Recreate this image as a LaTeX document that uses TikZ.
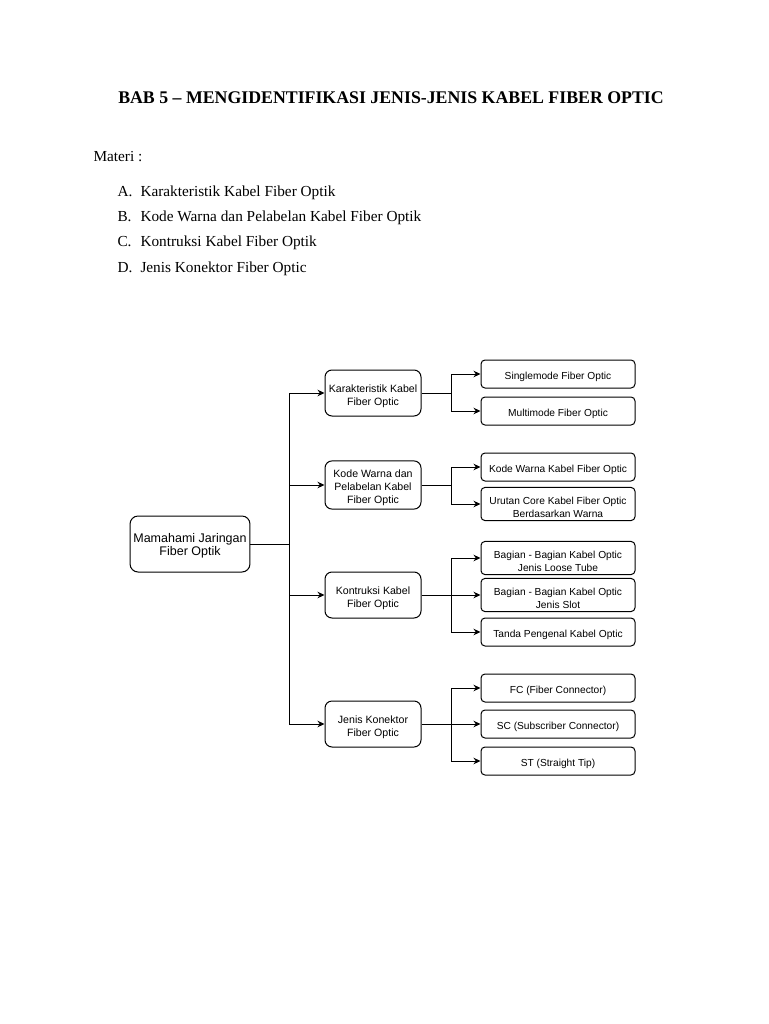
\documentclass[tikz,border=0pt]{standalone}
\usepackage{fontspec}
\setmainfont{Liberation Serif}
\newfontfamily\arialfont{Liberation Sans}
\usetikzlibrary{positioning, arrows.meta}
\newcommand{\tstrut}{\rule{0pt}{13.5pt}}

\begin{document}
\begin{tikzpicture}[>={Stealth[length=7pt, width=6.5pt]}, x=1pt, y=-1pt, line width=1pt,
    rootbox/.style={draw, rounded corners=8pt, minimum width=116pt, minimum height=56pt, align=center,
      font=\arialfont\fontsize{12.5}{13.8}\selectfont},
    midbox/.style={draw, rounded corners=7pt, minimum width=96pt, minimum height=46pt, align=center,
      font=\arialfont\fontsize{10.6}{12.9}\selectfont},
    leafbox/.style={draw, rounded corners=4pt, minimum width=154pt, minimum height=28pt, align=center,
      font=\arialfont\fontsize{10.2}{12.9}\selectfont},
    txt/.style={anchor=base west, inner sep=0pt, font=\fontsize{15.3}{18}\selectfont}]
        \useasboundingbox[fill=white] (0, 0) rectangle (768, 1024);

        \node[anchor=base, inner sep=0pt, font=\fontsize{17.8}{20}\selectfont\bfseries] (title) at (391, 104)
          {BAB 5 \textendash{} MENGIDENTIFIKASI JENIS-JENIS KABEL FIBER OPTIC};
        \node[txt] (materi) at (93, 162) {Materi :};
        \node[txt] (la) at (117, 197) {A.};
        \node[txt] (ta) at (140, 197) {Karakteristik Kabel Fiber Optik};
        \node[txt] (lb) at (117, 222) {B.};
        \node[txt] (tb) at (140, 222) {Kode Warna dan Pelabelan Kabel Fiber Optik};
        \node[txt] (lc) at (117, 247) {C.};
        \node[txt] (tc) at (140, 247) {Kontruksi Kabel Fiber Optik};
        \node[txt] (ld) at (117, 272) {D.};
        \node[txt] (td) at (140, 272) {Jenis Konektor Fiber Optic};

        \node[rootbox] (root) at (190, 544) {\rule{0pt}{12.5pt}Mamahami Jaringan\\Fiber Optik};

        \node[midbox] (k1) at (373, 393) {\tstrut Karakteristik Kabel\\Fiber Optic};
        \node[midbox] (k2) at (373, 485) {\tstrut Kode Warna dan\\Pelabelan Kabel\\Fiber Optic};
        \node[midbox] (k3) at (373, 595) {\tstrut Kontruksi Kabel\\Fiber Optic};
        \node[midbox] (k4) at (373, 724) {\tstrut Jenis Konektor\\Fiber Optic};

        \node[leafbox] (s1) at (558, 374) {\tstrut Singlemode Fiber Optic};
        \node[leafbox] (s2) at (558, 411) {\tstrut Multimode Fiber Optic};
        \node[leafbox] (s3) at (558, 467) {\tstrut Kode Warna Kabel Fiber Optic};
        \node[leafbox] (s4) at (558, 504) {\tstrut Urutan Core Kabel Fiber Optic\\Berdasarkan Warna};
        \node[leafbox] (s5) at (558, 558) {\tstrut Bagian - Bagian Kabel Optic\\Jenis Loose Tube};
        \node[leafbox] (s6) at (558, 595) {\tstrut Bagian - Bagian Kabel Optic\\Jenis Slot};
        \node[leafbox] (s7) at (558, 632) {\tstrut Tanda Pengenal Kabel Optic};
        \node[leafbox] (s8) at (558, 688) {\tstrut FC (Fiber Connector)};
        \node[leafbox] (s9) at (558, 724) {\tstrut SC (Subscriber Connector)};
        \node[leafbox] (s10) at (558, 761) {\tstrut ST (Straight Tip)};

        \draw (root.east) -- ++(39, 0) coordinate (trunk);
        \draw (trunk |- k1.west) -- (trunk |- k4.west);
        \foreach \k in {k1, k2, k3, k4}
          \draw[->] (trunk |- \k.west) -- (\k.west);

        \draw (k1.east) -- ++(30, 0) coordinate (b1);
        \draw[->] (b1) |- (s1.west);
        \draw[->] (b1) |- (s2.west);

        \draw (k2.east) -- ++(30, 0) coordinate (b2);
        \draw[->] (b2) |- (s3.west);
        \draw[->] (b2) |- (s4.west);

        \draw (k3.east) -- ++(30, 0) coordinate (b3);
        \draw[->] (b3) |- (s5.west);
        \draw[->] (b3) |- (s6.west);
        \draw[->] (b3) |- (s7.west);

        \draw (k4.east) -- ++(30, 0) coordinate (b4);
        \draw[->] (b4) |- (s8.west);
        \draw[->] (b4) |- (s9.west);
        \draw[->] (b4) |- (s10.west);
      \end{tikzpicture}
\end{document}
